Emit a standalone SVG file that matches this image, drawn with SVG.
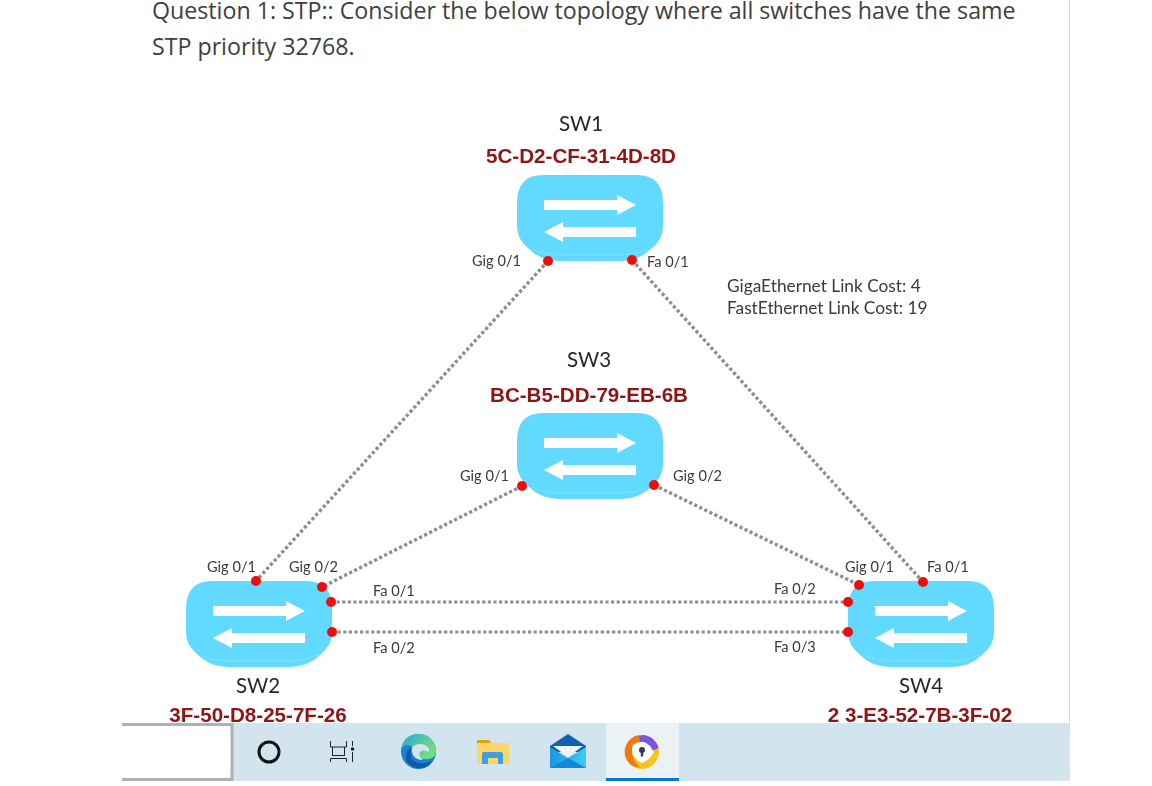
<svg xmlns="http://www.w3.org/2000/svg" width="1152" height="786" viewBox="0 0 1152 786">
<style>
.q{font-family:"Open Sans","Noto Sans",sans-serif;font-size:23.2px;fill:#3c4043}
.name{font-family:Lato,"Noto Sans",sans-serif;font-size:20.5px;fill:#262626;text-anchor:middle}
.mac{font-family:"Liberation Sans",Arial,sans-serif;font-size:20.6px;font-weight:bold;fill:#8f1414;text-anchor:middle}
.port{font-family:Lato,"Noto Sans",sans-serif;font-size:14.6px;fill:#3a3a3a}
.note{font-family:Lato,"Noto Sans",sans-serif;font-size:17.3px;fill:#3a3a3a}
.link{fill:none;stroke:#8f8f8f;stroke-width:3.4;stroke-dasharray:3.2 2.4}
.flat{stroke-width:2.8}
.dot{fill:#ee0d0d}
</style>
<defs>
<filter id="soft" x="-5%" y="-5%" width="110%" height="110%"><feGaussianBlur stdDeviation="0.5"/></filter>
<linearGradient id="edgeTop" x1="0" y1="0" x2="1" y2="0.6"><stop offset="0" stop-color="#2aa7d8"/><stop offset="1" stop-color="#74e07a"/></linearGradient>
<linearGradient id="mailBody" x1="0" y1="0" x2="1" y2="0"><stop offset="0" stop-color="#1c97e2"/><stop offset="1" stop-color="#3accf6"/></linearGradient>
<g id="sw">
<path d="M26 0H120Q146 0 146 28V52Q146 64 134 74Q122 86 104 86H42Q24 86 12 74Q0 64 0 52V28Q0 0 26 0Z" fill="#62d9ff"/>
<path d="M14 74Q28 80 42 80H104Q118 80 132 74" fill="none" stroke="#7fe1ff" stroke-width="1"/>
<path d="M27 25H100V20L119 30L100 40V35H27Z" fill="#fff"/>
<path d="M119 52H46V47L27 57L46 67V62H119Z" fill="#fff"/>
</g>
</defs>
<rect width="1152" height="786" fill="#fff"/>
<line x1="1069.500" y1="0" x2="1069.500" y2="723" stroke="#d9d9d9"/>
<text class="q" x="152" y="19">Question 1: STP:: Consider the below topology where all switches have the same</text>
<text class="q" x="152" y="55">STP priority 32768.</text>
<g filter="url(#soft)">
<g id="connectors">
<path class="link" d="M548 261L256 581"/>
<path class="link" d="M632 260L923 582"/>
<path class="link" d="M522 486L322 587"/>
<path class="link" d="M654 485L859 585"/>
<path class="link flat" d="M331 602H848"/>
<path class="link flat" d="M332 632H848"/>
</g>
<g id="sw1">
<use href="#sw" x="517" y="175"/>
<circle class="dot" cx="548" cy="261" r="5"/><circle class="dot" cx="632" cy="260" r="5"/>
<text class="name" x="581" y="131">SW1</text>
<text class="mac" x="581" y="163">5C-D2-CF-31-4D-8D</text>
<text class="port" x="472" y="266">Gig 0/1</text>
<text class="port" x="647" y="267">Fa 0/1</text>
</g>
<g id="sw3">
<use href="#sw" x="517" y="413"/>
<circle class="dot" cx="522" cy="486" r="5"/><circle class="dot" cx="654" cy="485" r="5"/>
<text class="name" x="589" y="367">SW3</text>
<text class="mac" x="589" y="402">BC-B5-DD-79-EB-6B</text>
<text class="port" x="460" y="481">Gig 0/1</text>
<text class="port" x="673" y="481">Gig 0/2</text>
</g>
<g id="sw2">
<use href="#sw" x="186" y="581"/>
<circle class="dot" cx="256" cy="581" r="5"/><circle class="dot" cx="322" cy="587" r="5"/><circle class="dot" cx="331" cy="602" r="5"/><circle class="dot" cx="332" cy="632" r="5"/>
<text class="name" x="258" y="693">SW2</text>
<text class="mac" x="258" y="722">3F-50-D8-25-7F-26</text>
<text class="port" x="207" y="572">Gig 0/1</text>
<text class="port" x="289" y="572">Gig 0/2</text>
<text class="port" x="373" y="596">Fa 0/1</text>
<text class="port" x="373" y="653">Fa 0/2</text>
</g>
<g id="sw4">
<use href="#sw" x="848" y="581"/>
<circle class="dot" cx="859" cy="585" r="5"/><circle class="dot" cx="923" cy="582" r="5"/><circle class="dot" cx="848" cy="602" r="5"/><circle class="dot" cx="848" cy="632" r="5"/>
<text class="name" x="921" y="693">SW4</text>
<text class="mac" x="920" y="722">2 3-E3-52-7B-3F-02</text>
<text class="port" x="845" y="572">Gig 0/1</text>
<text class="port" x="927" y="572">Fa 0/1</text>
<text class="port" x="774" y="594">Fa 0/2</text>
<text class="port" x="774" y="652">Fa 0/3</text>
</g>
<g id="legend">
<text class="note" x="727" y="292">GigaEthernet Link Cost: 4</text>
<text class="note" x="727" y="314">FastEthernet Link Cost: 19</text>
</g>
</g>
<g id="taskbar">
<rect x="122" y="723" width="948" height="58" fill="#d2e5ee"/>
<rect x="122" y="723" width="111" height="58" fill="#fff"/>
<path d="M122 724.500H232V779.500H122" fill="none" stroke="#b0b0b0" stroke-width="3"/>
<circle cx="269" cy="752" r="10" fill="none" stroke="#111" stroke-width="3"/>
<path d="M330.500 741V747H346.500V741M332.500 747V756M344.500 747V756M332.500 755.500H344.500M330.500 762V758.500H346.500V762M352.500 741V746M352.500 752V762" fill="none" stroke="#222" stroke-width="1"/>
<circle cx="352.500" cy="749" r="1.800" fill="#222"/>
<g id="edge-icon">
<circle cx="418.500" cy="751.500" r="17.500" fill="#1a82d2"/>
<path d="M401 750Q403 734 420 734Q434 735 436 751Q436 758 428 759Q418 760 417 754Q416 746 408 745Q403 745 401 750Z" fill="url(#edgeTop)"/>
<path d="M428 766Q416 772 407 762Q403 752 412 747Q408 758 416 762Q424 765 432 761Q431 764 428 766Z" fill="#0f5ba8"/>
<path d="M412 747Q418 742 425 745Q430 748 429 752Q423 749 420 752Q418 756 423 760Q416 760 413 755Q411 751 412 747Z" fill="#d2e5ee"/>
</g>
<g id="folder-icon">
<path d="M477 740H489L493 745H477Z" fill="#dca20f"/>
<rect x="477" y="743" width="32" height="21" rx="1" fill="#fdd766"/>
<path d="M482 764V754Q482 752 484 752H501Q503 752 503 754V764H498V758H488V764Z" fill="#3f9ee0"/>
</g>
<g id="mail-icon">
<path d="M550 746L568 734L586 746V752H550Z" fill="#0f63ad"/>
<path d="M553 746H583L568 757Z" fill="#f1f4f6"/>
<path d="M550 747L568 758L586 747V768H550Z" fill="url(#mailBody)"/>
<path d="M568 758L586 768H550Z" fill="#1288d8"/>
</g>
<rect x="606" y="723" width="73" height="58" fill="#eaf2f6"/>
<rect x="606" y="778" width="73" height="3" fill="#0078d7"/>
<g id="app-icon">
<circle cx="642" cy="752" r="17" fill="#f3c51f"/>
<path d="M642 735A17 17 0 0 1 658.500 748L650 752Q646 742 634 745Q632 737 642 735Z" fill="#7a55e0"/>
<path d="M639 735A17 17 0 0 0 631 765L640 768Q624 750 640 741Z" fill="#f07810"/>
<path d="M633 745Q642 738 650 746L654 752Q650 760 642 763Q636 760 633 755Q631 750 633 745Z" fill="#fff"/>
<circle cx="642" cy="750" r="3" fill="#32395c"/>
<rect x="640.800" y="750" width="2.400" height="6.500" fill="#32395c"/>
</g>
</g>
</svg>
